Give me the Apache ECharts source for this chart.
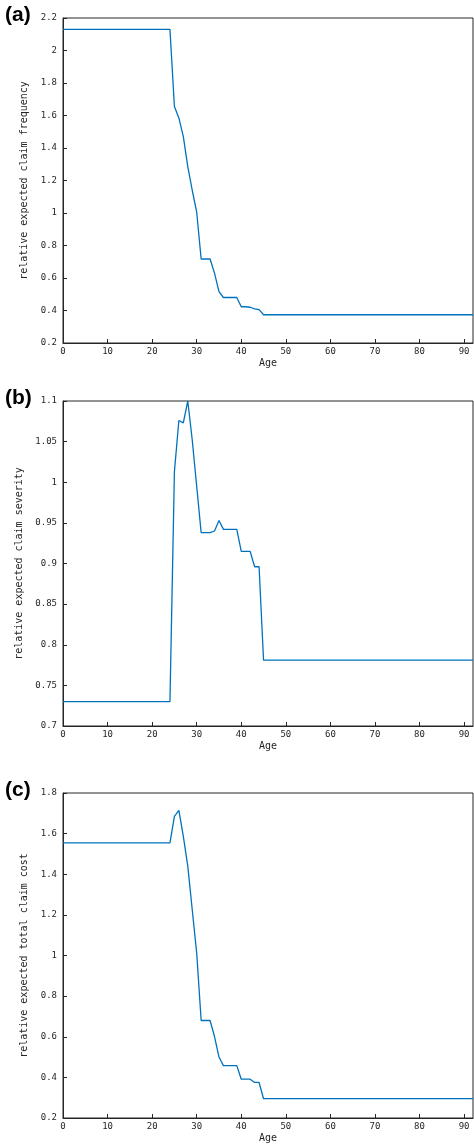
<!DOCTYPE html>
<html><head><meta charset="utf-8">
<script src="https://cdn.jsdelivr.net/npm/echarts@6/dist/echarts.min.js"></script>
<style>html,body{margin:0;padding:0;background:#fff}#c{width:474px;height:1145px}</style>
</head><body><div id="c"></div>
<script>
const ages = [0,24,25,26,27,28,29,30,31,32,33,34,35,36,37,38,39,40,41,42,43,44,45,92];
const frequency = [2.13,2.13,1.655,1.585,1.47,1.285,1.14,1.005,0.717,0.717,0.717,0.63,0.516,0.48,0.48,0.48,0.48,0.423,0.423,0.42,0.41,0.405,0.374,0.374];
const severity = [0.73,0.73,1.013,1.076,1.073,1.1,1.052,0.995,0.938,0.938,0.938,0.94,0.953,0.942,0.942,0.942,0.942,0.915,0.915,0.915,0.896,0.896,0.781,0.781];
const totalCost = [1.554,1.554,1.685,1.714,1.586,1.44,1.225,1.012,0.68,0.68,0.68,0.601,0.50,0.458,0.458,0.458,0.458,0.391,0.391,0.391,0.375,0.375,0.295,0.295];
const panels = [
  {tag:'(a)', name:'relative expected claim frequency', vals:frequency, min:0.2, max:2.2, step:0.2, top:18},
  {tag:'(b)', name:'relative expected claim severity', vals:severity, min:0.7, max:1.1, step:0.05, top:401},
  {tag:'(c)', name:'relative expected total claim cost', vals:totalCost, min:0.2, max:1.8, step:0.2, top:793}
];
const font = 'DejaVu Sans Mono';
const grids=[],xs=[],ys=[],series=[],titles=[];
panels.forEach((p,i)=>{
  grids.push({left:63,right:1,top:p.top,height:325,show:true,borderColor:'#262626',borderWidth:1});
  xs.push({type:'value',gridIndex:i,min:0,max:92,interval:10,name:'Age',nameLocation:'middle',nameGap:15,
    nameTextStyle:{fontFamily:font,fontSize:10,color:'#262626'},
    axisLine:{lineStyle:{color:'#262626'}},axisTick:{inside:true,length:4,lineStyle:{color:'#262626'}},
    axisLabel:{fontFamily:font,fontSize:9,color:'#262626',margin:4,showMaxLabel:false},splitLine:{show:false}});
  ys.push({type:'value',gridIndex:i,min:p.min,max:p.max,interval:p.step,name:p.name,nameLocation:'middle',nameGap:33,
    nameTextStyle:{fontFamily:font,fontSize:10,color:'#262626'},
    axisLine:{show:true,lineStyle:{color:'#262626'}},axisTick:{show:true,inside:true,length:4,lineStyle:{color:'#262626'}},
    axisLabel:{fontFamily:font,fontSize:9,color:'#262626',margin:6,formatter:v=>String(+v.toFixed(2))},splitLine:{show:false}});
  series.push({type:'line',xAxisIndex:i,yAxisIndex:i,data:ages.map((a,k)=>[a,p.vals[k]]),showSymbol:false,
    lineStyle:{color:'#0072BD',width:1.3},itemStyle:{color:'#0072BD'}});
  titles.push({text:p.tag,left:0,top:p.top-18,textStyle:{fontFamily:'Liberation Sans',fontWeight:'bold',fontSize:21,color:'#000'}});
});
const chart = echarts.init(document.getElementById('c'));
chart.setOption({animation:false,title:titles,grid:grids,xAxis:xs,yAxis:ys,series});
</script></body></html>
